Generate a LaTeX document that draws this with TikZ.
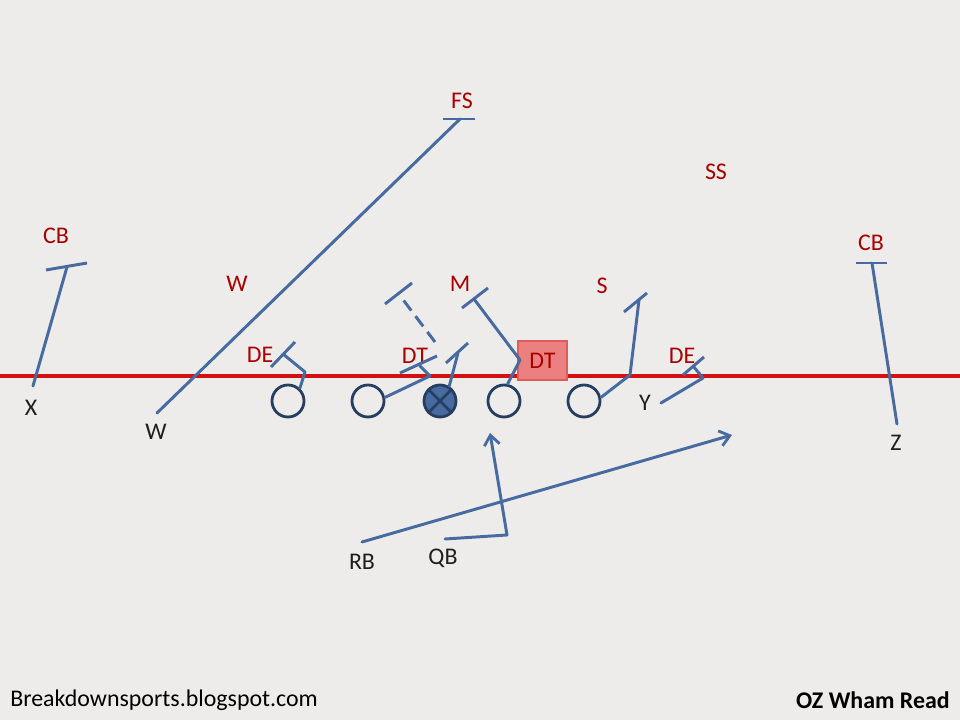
\documentclass[tikz,border=0pt]{standalone}
\usepackage{fontspec}
\setmainfont{Carlito}
\usetikzlibrary{arrows.meta}
\definecolor{bg}{RGB}{238,236,234}
\definecolor{routeblue}{RGB}{71,107,160}
\definecolor{navy}{RGB}{38,62,96}
\definecolor{losred}{RGB}{212,16,16}
\definecolor{deftext}{RGB}{168,0,0}
\definecolor{offtext}{RGB}{30,30,30}
\definecolor{boxfill}{RGB}{236,128,128}
\definecolor{boxline}{RGB}{222,92,92}
\begin{document}
\begin{tikzpicture}[x=0.025cm,y=-0.025cm,
  route/.style={draw=routeblue,line width=2.1pt,line cap=round,line join=round},
  tbar/.style={draw=routeblue,line width=2.1pt},
  lineman/.style={circle,draw=navy,line width=2pt,minimum size=0.8cm,inner sep=0pt},
  deflabel/.style={text=deftext,font=\fontsize{17}{19}\selectfont,inner sep=0pt},
  offlabel/.style={text=offtext,font=\fontsize{17}{19}\selectfont,inner sep=0pt},
  runarrow/.style={route,-{Straight Barb[length=7pt,width=11pt,line width=2pt]}}]
\fill[bg] (0,0) rectangle (960,720);
\useasboundingbox (0,0) rectangle (960,720);

% line of scrimmage
\coordinate (losL) at (0,376);
\coordinate (losR) at (960,376);
\draw[losred,line width=2.3pt] (losL) -- (losR);

% offensive line
\node[lineman] (lt) at (288,401) {};
\node[lineman] (lg) at (368,401) {};
\node[lineman,fill=routeblue] (c) at (440,401) {};
\draw[navy,line width=2pt] (c.45) -- (c.225) (c.135) -- (c.315);
\node[lineman] (rg) at (504,401) {};
\node[lineman] (rt) at (584,401) {};

% highlighted DT
\node[draw=boxline,fill=boxfill,line width=1.5pt,minimum width=1.225cm,minimum height=0.975cm,inner sep=0pt,text=deftext,font=\fontsize{17}{19}\selectfont] (dtbox) at (542.5,360.5) {DT};

% defensive labels
\node[deflabel] (cbL) at (56,236) {CB};
\node[deflabel] (wLb) at (237,284) {W};
\node[deflabel] (fs) at (462,101) {FS};
\node[deflabel] (ss) at (716,172) {SS};
\node[deflabel] (deL) at (260,355) {DE};
\node[deflabel] (dtL) at (415,356) {DT};
\node[deflabel] (mlb) at (460,284) {M};
\node[deflabel] (slb) at (602,286) {S};
\node[deflabel] (deR) at (682,356) {DE};
\node[deflabel] (cbR) at (871,243) {CB};

% offensive labels
\node[offlabel] (xr) at (31,408) {X};
\node[offlabel] (wr) at (156,432) {W};
\node[offlabel] (yt) at (645,403) {Y};
\node[offlabel] (zr) at (896,443) {Z};
\node[offlabel] (rb) at (362,562) {RB};
\node[offlabel] (qb) at (443,558) {QB};

% route coordinates
\coordinate (x0) at (33,386);   \coordinate (x1) at (67,267);
\coordinate (x1a) at (46,270);  \coordinate (x1b) at (87,263);
\coordinate (w0) at (157,413);  \coordinate (w1) at (460,119);
\coordinate (w1a) at (443,119); \coordinate (w1b) at (475,119);
\coordinate (z0) at (897,424);  \coordinate (z1) at (872,263);
\coordinate (z1a) at (856,263); \coordinate (z1b) at (887,263);

\coordinate (lt1) at (305,372); \coordinate (lt2) at (283,354);
\coordinate (lt2a) at (271,367); \coordinate (lt2b) at (295,342);

\coordinate (lg1) at (430,376); \coordinate (lg2) at (420,366);
\coordinate (lg2a) at (400,373); \coordinate (lg2b) at (437,356);

\coordinate (dsh0) at (435,342); \coordinate (dsh1) at (401,297);
\coordinate (dsh1a) at (385,304); \coordinate (dsh1b) at (412,283);

\coordinate (c1) at (458,353);
\coordinate (c1a) at (446,363); \coordinate (c1b) at (468,343);

\coordinate (rg1) at (520,360); \coordinate (rg2) at (474,299);
\coordinate (rg2a) at (462,308); \coordinate (rg2b) at (488,288);

\coordinate (rt1) at (630,375); \coordinate (rt2) at (639,300);
\coordinate (rt2a) at (624,312); \coordinate (rt2b) at (647,293);

\coordinate (y0) at (661,403); \coordinate (y1) at (703,378); \coordinate (y2) at (693,366);
\coordinate (y2a) at (683,375); \coordinate (y2b) at (704,357);

\coordinate (qb0) at (445,539); \coordinate (qb1) at (507,535); \coordinate (qb2) at (490,433);
\coordinate (rb0) at (362,542); \coordinate (rb1) at (732,435);

% receivers
\draw[route] (x0) -- (x1);   \draw[tbar] (x1a) -- (x1b);
\draw[route] (w0) -- (w1);   \draw[tbar] (w1a) -- (w1b);
\draw[route] (z0) -- (z1);   \draw[tbar] (z1a) -- (z1b);

% line blocks
\draw[route] (lt.47) -- (lt1) -- (lt2);  \draw[tbar] (lt2a) -- (lt2b);
\draw[route] (lg.12) -- (lg1) -- (lg2);  \draw[tbar] (lg2a) -- (lg2b);
\draw[route,dash pattern=on 9pt off 5pt,line cap=butt] (dsh0) -- (dsh1); \draw[tbar] (dsh1a) -- (dsh1b);
\draw[route] (c.58) -- (c1);  \draw[tbar] (c1a) -- (c1b);
\draw[route] (rg.78) -- (rg1) -- (rg2);  \draw[tbar] (rg2a) -- (rg2b);
\draw[route] (rt.12) -- (rt1) -- (rt2);  \draw[tbar] (rt2a) -- (rt2b);
\draw[route] (y0) -- (y1) -- (y2);  \draw[tbar] (y2a) -- (y2b);

% backfield
\draw[runarrow] (qb0) -- (qb1) -- (qb2);
\draw[runarrow] (rb0) -- (rb1);

% footer
\node[anchor=west,inner sep=0pt,font=\fontsize{17}{19}\selectfont] (site) at (10,700) {Breakdownsports.blogspot.com};
\node[anchor=east,inner sep=0pt,font=\fontsize{17}{19}\selectfont\bfseries] (title) at (950,700) {OZ Wham Read};
\end{tikzpicture}
\end{document}
